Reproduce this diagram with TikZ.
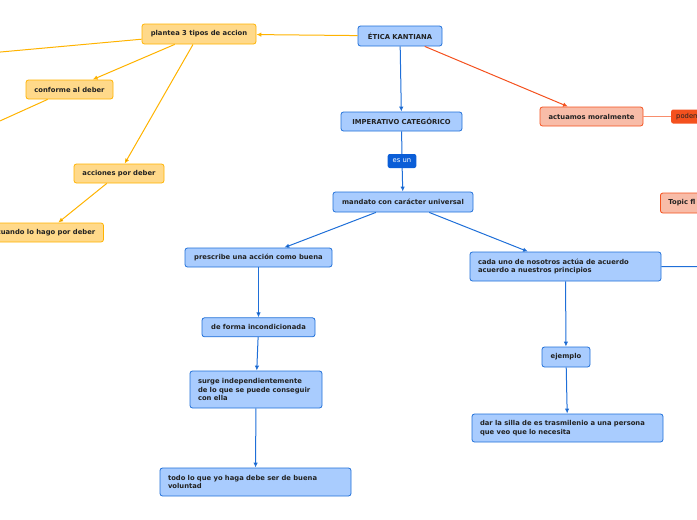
\documentclass[tikz,border=0pt]{standalone}
\usepackage{fontspec}
\newfontfamily\mapfont{DejaVu Sans}
\usetikzlibrary{positioning, arrows.meta}
\definecolor{kblue}{HTML}{1F6FD8}
\definecolor{kbluefill}{HTML}{A9CCFE}
\definecolor{korange}{HTML}{FFB300}
\definecolor{korangefill}{HTML}{FFD98A}
\definecolor{kred}{HTML}{F4511E}
\definecolor{kredfill}{HTML}{F8BCA8}
\definecolor{klabel}{HTML}{0B5ED7}
\definecolor{ktext}{HTML}{222222}
\tikzset{>={Latex[length=5pt,width=4.5pt]},
    box/.style={rounded corners=2.5pt, line width=0.8pt, inner sep=0pt,
        minimum height=19pt, text=ktext,
        font=\mapfont\fontsize{6.8}{8.5}\selectfont\bfseries},
    bluebox/.style={box, draw=kblue, fill=kbluefill},
    orangebox/.style={box, draw=korange, fill=korangefill},
    redbox/.style={box, draw=kred, fill=kredfill},
    multi/.style={align=left, text width=#1, inner xsep=8pt},
    linkbox/.style={rounded corners=2pt, inner xsep=5pt, inner ysep=0pt,
        minimum height=14pt, font=\mapfont\fontsize{6.8}{8.5}\selectfont},
    blueline/.style={draw=kblue, line width=1pt},
    orangeline/.style={draw=korange, line width=1pt},
    redline/.style={draw=kred, line width=1pt}
}
\begin{document}
\begin{tikzpicture}[x=1pt, y=-1pt]
    \useasboundingbox (0,0) rectangle (697,520);
    \clip (0,0) rectangle (697,520);

    % main topic and its first branches
    \node[bluebox, minimum width=84pt, minimum height=20pt] (etica) at (400,36) {ÉTICA KANTIANA};
    \node[orangebox, minimum width=114pt, minimum height=20pt] (plantea) at (199,34) {plantea 3 tipos de accion};
    \node[orangebox, minimum width=87pt] (conforme) at (69.5,89.5) {conforme al deber};
    \node[orangebox, minimum width=90pt] (acciones) at (119,173.5) {acciones por deber};
    \node[orangebox, minimum width=115pt] (cuando) at (46,232.5) {cuando lo hago por deber};
    \node[redbox, minimum width=103pt] (actuamos) at (591.5,116.5) {actuamos moralmente};
    \node[linkbox, fill=kred, text=ktext, anchor=west, minimum width=40pt, align=left] (podem) at (671,116.5) {podem\hspace{20pt}};
    \node[redbox, anchor=west, inner xsep=8pt, minimum height=20pt] (topic) at (660,203) {Topic fl\hspace{20pt}};

    % imperativo categorico
    \node[bluebox, minimum width=121pt] (imperativo) at (401.5,121.5) {IMPERATIVO CATEGÓRICO};
    \node[linkbox, fill=klabel, text=white, minimum width=26pt] (esun) at (402,161) {es un};
    \node[bluebox, minimum width=140pt, minimum height=20pt] (mandato) at (403,202) {mandato con carácter universal};

    % left column
    \node[bluebox, minimum width=147pt] (prescribe) at (258.5,257.5) {prescribe una acción como buena};
    \node[bluebox, minimum width=113pt, below=50pt of prescribe] (deforma) {de forma incondicionada};
    \node[bluebox, multi=116pt, minimum height=37pt] (surge) at (256,389.5)
        {surge independientemente\\de lo que se puede conseguir\\con ella};
    \node[bluebox, multi=175pt, minimum height=28pt] (todo) at (255.5,482)
        {todo lo que yo haga debe ser de buena\\voluntad};

    % right column
    \node[bluebox, multi=175pt, minimum height=29pt] (cadauno) at (565.5,266.5)
        {cada uno de nosotros actúa de acuerdo\\acuerdo a nuestros principios};
    \node[bluebox, minimum width=48pt, minimum height=20pt] (ejemplo) at (566,357) {ejemplo};
    \node[bluebox, multi=175pt, minimum height=28pt] (dar) at (567.5,428)
        {dar la silla de es trasmilenio a una persona\\que veo que lo necesita};

    % free ends leaving the page
    \coordinate (offA) at (-60,57.5);
    \coordinate (offB) at (-40,139);
    \coordinate (offC) at (760,266.5);

    \draw[orangeline, ->]
    (etica) -- (plantea);
    \draw[orangeline]
    (plantea) -- (offA)
    (conforme) -- (offB)
    ;
    \draw[orangeline, ->]
    (plantea) edge (conforme)
    (plantea) edge (acciones)
    (acciones) edge (cuando)
    ;
    \draw[redline, ->] (etica) -- (actuamos);
    \draw[draw=kred!65, line width=1.5pt] (actuamos) -- (podem);

    \draw[blueline, ->]
    (etica) edge (imperativo)
    (esun) edge (mandato)
    (mandato) edge (prescribe)
    (mandato) edge (cadauno)
    (prescribe) edge (deforma)
    (deforma) edge (surge)
    (surge) edge (todo)
    (cadauno) edge (ejemplo)
    (ejemplo) edge (dar)
    ;
    \draw[blueline]
    (imperativo) -- (esun)
    (cadauno) -- (offC)
    ;
\end{tikzpicture}
\end{document}
